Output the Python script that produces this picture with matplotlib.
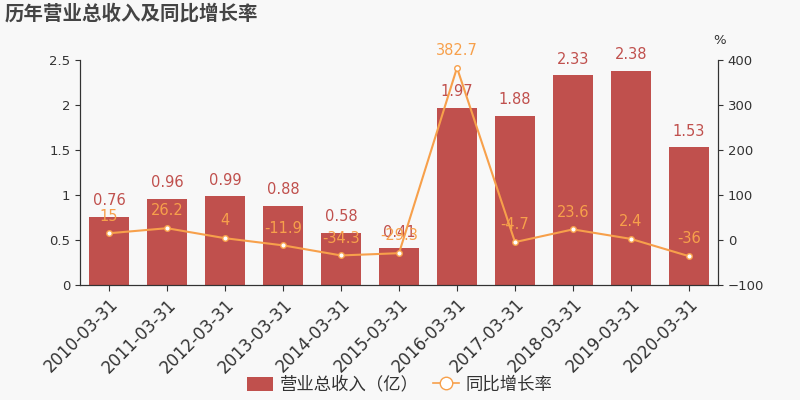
import matplotlib
matplotlib.use("Agg")
import matplotlib.pyplot as plt
import numpy as np

plt.rcParams['font.family'] = ['DejaVu Sans', 'Noto Sans CJK SC']

dates = ["2010-03-31", "2011-03-31", "2012-03-31", "2013-03-31", "2014-03-31",
         "2015-03-31", "2016-03-31", "2017-03-31", "2018-03-31", "2019-03-31",
         "2020-03-31"]
revenue = [0.76, 0.96, 0.99, 0.88, 0.58, 0.41, 1.97, 1.88, 2.33, 2.38, 1.53]
growth = [15, 26.2, 4, -11.9, -34.3, -29.3, 382.7, -4.7, 23.6, 2.4, -36]

BAR = "#c0504d"
LINE = "#f7a04b"
BG = "#f8f8f8"
TXT = "#333333"

fig = plt.figure(figsize=(8, 4), dpi=100, facecolor=BG)
ax = fig.add_axes([0.1, 0.2875, 0.7975, 0.5625], facecolor=BG)
ax2 = ax.twinx()

x = np.arange(len(dates))
bars = ax.bar(x, revenue, width=0.7, color=BAR, label="营业总收入（亿）", zorder=2)
ax.set_xlim(-0.5, len(dates) - 0.5)
ax.set_ylim(0, 2.5)
ax.set_yticks([0, 0.5, 1, 1.5, 2, 2.5])
ax.set_yticklabels(["0", "0.5", "1", "1.5", "2", "2.5"])
ax.set_xticks(x)
ax.set_xticklabels(dates, rotation=45, ha="right", rotation_mode="anchor", fontsize=12,
                   color=TXT)
ax.tick_params(axis="y", labelsize=9.5, colors=TXT)
ax.tick_params(axis="x", length=4, colors=TXT)

for xi, v in zip(x, revenue):
    ax.annotate(f"{v:g}", (xi, v), xytext=(0, 6), textcoords="offset points",
                ha="center", va="bottom", color=BAR, fontsize=10.5, zorder=5)

line, = ax2.plot(x, growth, color=LINE, lw=1.5, marker="o", markersize=4,
                 markerfacecolor="white", markeredgecolor=LINE, markeredgewidth=1,
                 label="同比增长率", zorder=3)
ax2.set_ylim(-100, 400)
ax2.set_yticks([-100, 0, 100, 200, 300, 400])
ax2.tick_params(axis="y", labelsize=9.5, colors=TXT)
for xi, g in zip(x, growth):
    ax2.annotate(f"{g:g}", (xi, g), xytext=(0, 7), textcoords="offset points",
                 ha="center", va="bottom", color=LINE, fontsize=10.5, zorder=6)

for a in (ax, ax2):
    a.spines["top"].set_visible(False)
    for s in ("left", "right", "bottom"):
        a.spines[s].set_color(TXT)
ax2.text(1.003, 1.06, "%", transform=ax2.transAxes, ha="center", va="bottom",
         fontsize=9.5, color=TXT)

fig.text(0.006, 0.965, "历年营业总收入及同比增长率", fontsize=14, fontweight="bold",
         color="#444444", ha="left", va="center", family="Noto Sans CJK SC")

leg_line = plt.Line2D([], [], color=LINE, lw=1.2, marker="o", markersize=9,
                      markerfacecolor="white", markeredgecolor=LINE)
fig.legend([bars, leg_line], ["营业总收入（亿）", "同比增长率"], loc="center",
           bbox_to_anchor=(0.5, 0.038), ncol=2, frameon=False,
           handlelength=1.5, handleheight=0.9, handletextpad=0.4, columnspacing=0.8,
           labelcolor=TXT, prop={"family": "Noto Sans CJK SC", "size": 12.5})

fig.savefig("out.png", dpi=100, facecolor=BG)
